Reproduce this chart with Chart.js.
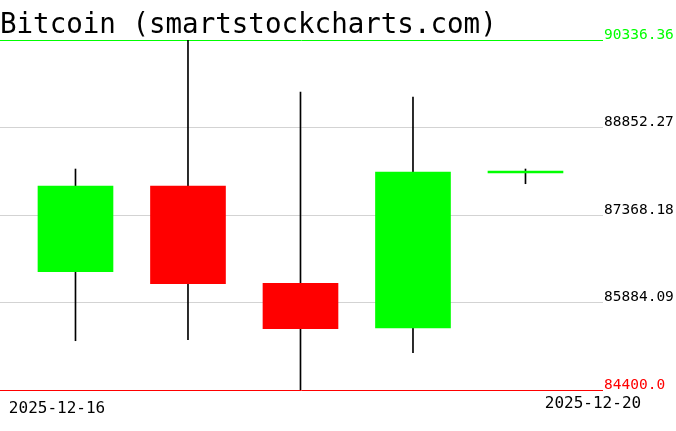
<!DOCTYPE html>
<html>
<head>
<meta charset="utf-8">
<script src="https://cdn.jsdelivr.net/npm/chart.js@4"></script>
<style>
  html, body { margin: 0; padding: 0; background: #fff; }
  #wrap { width: 676px; height: 431px; }
</style>
</head>
<body>
<div id="wrap"><canvas id="chart"></canvas></div>
<script>
'use strict';

// ===== data =====
const dates = ['2025-12-16', '2025-12-17', '2025-12-18', '2025-12-19', '2025-12-20'];
const opens = [86406, 87860, 86210, 85452, 88080];
const closes = [87860, 86203, 85440, 88097, 88114];
const highs = [88148, 90336.36, 89454, 89370, 88148];
const lows = [85236, 85253, 84400, 85033, 87899];

const yTicks = [84400.0, 85884.09, 87368.18, 88852.27, 90336.36];
const yTickLabels = ['84400.0', '85884.09', '87368.18', '88852.27', '90336.36'];
const xTickLabels = ['2025-12-16', '2025-12-20'];
const xTickPos = [-0.164, 4.6];

const UP = '#00ff00';
const DOWN = '#ff0000';
const MONO = "'DejaVu Sans Mono', monospace";

const candleColors = opens.map((o, i) => closes[i] >= o ? UP : DOWN);

const wicks = dates.map((d, i) => ({ x: i, y: [lows[i], highs[i]] }));
const bodies = dates.map((d, i) => ({ x: i, y: [opens[i], closes[i]] }));

new Chart(document.getElementById('chart'), {
  type: 'bar',
  data: {
    datasets: [
      {
        label: 'body',
        data: bodies,
        backgroundColor: candleColors,
        borderWidth: 0,
        barThickness: 75,
        grouped: false,
        order: 0
      },
      {
        label: 'wick',
        data: wicks,
        backgroundColor: '#000',
        borderWidth: 0,
        barThickness: 1,
        grouped: false,
        order: 1
      }
    ]
  },
  options: {
    responsive: true,
    maintainAspectRatio: false,
    animation: false,
    layout: { padding: 0 },
    plugins: {
      legend: { display: false },
      tooltip: { enabled: false },
      title: {
        display: true,
        text: 'Bitcoin (smartstockcharts.com)',
        align: 'start',
        color: '#000',
        font: { family: MONO, size: 27.5, weight: 'normal', lineHeight: 1 },
        padding: { top: 12.25, bottom: 0.25 }
      }
    },
    scales: {
      x: {
        type: 'linear',
        offset: false,
        min: -0.671,
        max: 4.689,
        grid: { display: false },
        border: { display: false },
        afterBuildTicks: scale => {
          scale.ticks = xTickPos.map(v => ({ value: v }));
        },
        afterFit: scale => { scale.height = 41; },
        ticks: {
          autoSkip: false,
          maxRotation: 0,
          padding: 0,
          color: '#000',
          callback: (v, i) => xTickLabels[i],
          font: ctx => ({
            family: MONO,
            size: 16,
            lineHeight: ctx.index === 0 ? '21px' : '11px'
          })
        }
      },
      y: {
        position: 'right',
        min: 84400,
        max: 90336.36,
        border: { display: false },
        afterBuildTicks: scale => {
          scale.ticks = yTicks.map(v => ({ value: v }));
        },
        afterFit: scale => { scale.width = 73; },
        grid: {
          drawTicks: false,
          lineWidth: 1,
          color: ctx => {
            if (ctx.index === 0) return DOWN;
            if (ctx.index === yTicks.length - 1) return UP;
            return '#d3d3d3';
          }
        },
        ticks: {
          padding: 1,
          labelOffset: -5,
          font: { family: MONO, size: 14.5 },
          color: ctx => {
            if (ctx.index === 0) return DOWN;
            if (ctx.index === yTicks.length - 1) return UP;
            return '#000';
          },
          callback: (v, i) => yTickLabels[i]
        }
      }
    }
  }
});
</script>
</body>
</html>
